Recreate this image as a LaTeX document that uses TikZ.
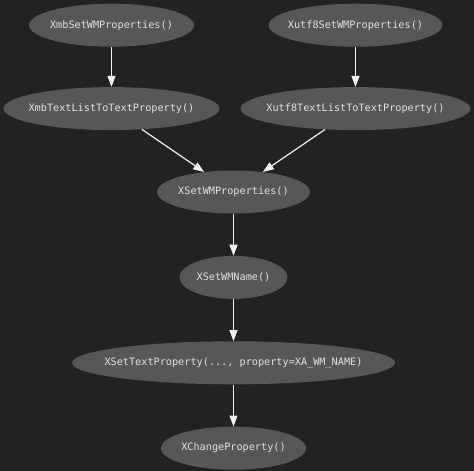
\documentclass[tikz,border=0pt]{standalone}
\usepackage{fontspec}
\newfontfamily\funcfont{DejaVu Sans Mono}
\usepackage{xcolor}
\usetikzlibrary{positioning,arrows.meta,shapes.geometric}

\definecolor{bgdark}{HTML}{222222}
\definecolor{nodegray}{HTML}{575757}
\definecolor{labelgray}{HTML}{E2E2E2}
\definecolor{arrowwhite}{HTML}{F2F2F2}

% keep the ellipse size independent of the label width
\newcommand{\fnlabel}[1]{\makebox[0pt]{#1}}

\begin{document}
\begin{tikzpicture}[
  fn/.style={ellipse, fill=nodegray, inner sep=0pt, minimum height=43pt,
             text=labelgray, font={\funcfont\fontsize{10.2}{12}\selectfont}},
  arr/.style={-{Triangle[length=11pt,width=8pt]}, line width=1.2pt, draw=arrowwhite},
  node distance=42pt,
]
  \fill[bgdark] (0,0) rectangle (474pt,-471pt);

  \node[fn, minimum width=153pt] (setwmprops) at (233.5pt,-192pt)
    {\fnlabel{XSetWMProperties()}};
  \node[fn, minimum width=216pt, above=40pt of setwmprops, xshift=-122pt] (mbtext)
    {\fnlabel{XmbTextListToTextProperty()}};
  \node[fn, minimum width=230pt, above=40pt of setwmprops, xshift=122pt] (utftext)
    {\fnlabel{Xutf8TextListToTextProperty()}};
  \node[fn, minimum width=165pt, above=40pt of mbtext] (mbset)
    {\fnlabel{XmbSetWMProperties()}};
  \node[fn, minimum width=174pt, above=40pt of utftext] (utfset)
    {\fnlabel{Xutf8SetWMProperties()}};
  \node[fn, minimum width=108pt, below=of setwmprops] (setname)
    {\fnlabel{XSetWMName()}};
  \node[fn, minimum width=323pt, below=of setname] (settextprop)
    {\fnlabel{XSetTextProperty(..., property=XA\_WM\_NAME)}};
  \node[fn, minimum width=145pt, below=of settextprop] (changeprop)
    {\fnlabel{XChangeProperty()}};

  \draw[arr] (mbset) -- (mbtext);
  \draw[arr] (utfset) -- (utftext);
  \draw[arr] (mbtext) -- (setwmprops);
  \draw[arr] (utftext) -- (setwmprops);
  \draw[arr] (setwmprops) -- (setname);
  \draw[arr] (setname) -- (settextprop);
  \draw[arr] (settextprop) -- (changeprop);
\end{tikzpicture}
\end{document}
